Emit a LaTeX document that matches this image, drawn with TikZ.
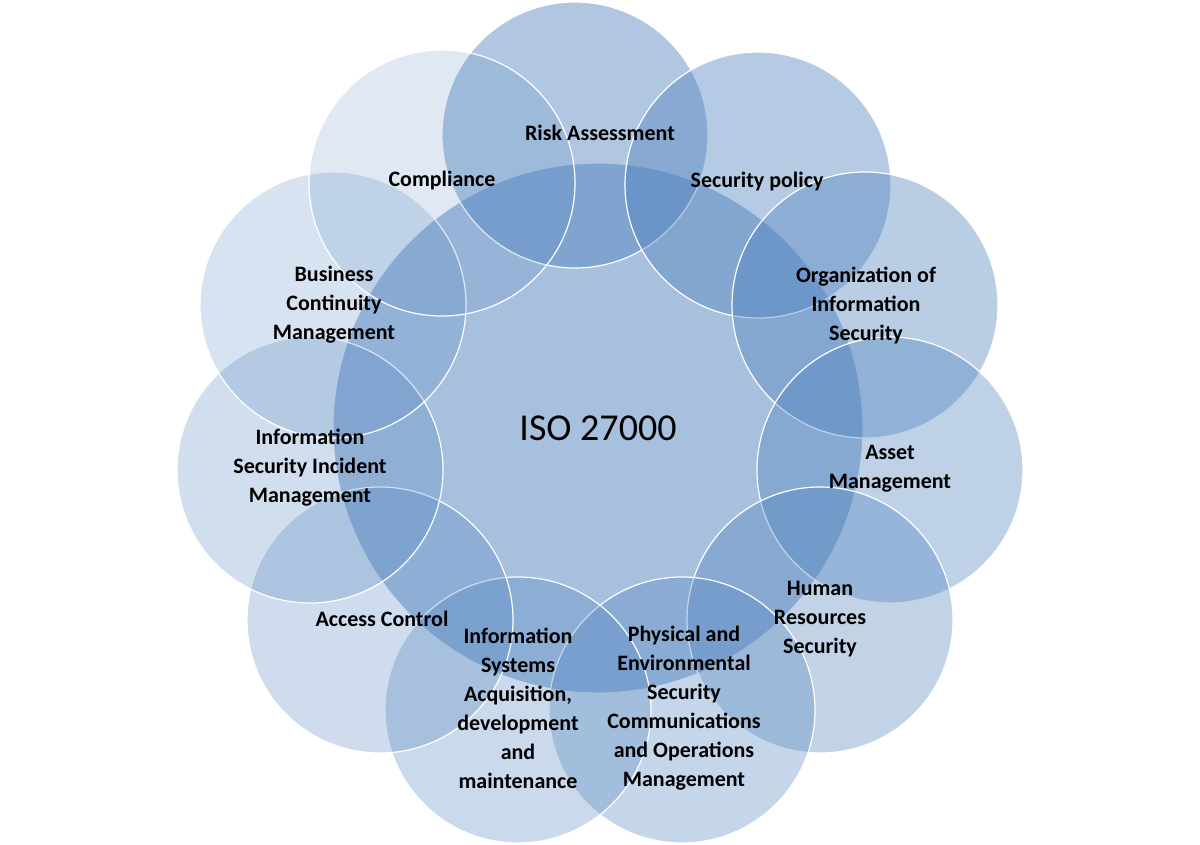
\documentclass[tikz,border=0pt]{standalone}
\usepackage{fontspec}
\setmainfont{Carlito}
\begin{document}
\begin{tikzpicture}[x=1pt,y=-1pt,
  circ/.style={circle,draw=white,line width=1.2pt,fill={rgb,255:red,79;green,129;blue,189},fill opacity=#1,minimum size=266pt,inner sep=0pt},
  lab/.style={align=center,font=\bfseries\fontsize{22}{29}\selectfont,text=black}]
\useasboundingbox (0,0) rectangle (1200,844);
\node[circ=0.5,minimum size=530pt] (c) at (598,428) {};
\node[circ=0.45] (c1) at (575,135) {};
\node[circ=0.42] (c2) at (758,185) {};
\node[circ=0.4] (c3) at (865,305) {};
\node[circ=0.37] (c4) at (890,470) {};
\node[circ=0.35] (c5) at (820,620) {};
\node[circ=0.32] (c6) at (682,710) {};
\node[circ=0.3] (c7) at (518,710) {};
\node[circ=0.28] (c8) at (380,620) {};
\node[circ=0.26] (c9) at (310,470) {};
\node[circ=0.22] (c10) at (333,305) {};
\node[circ=0.18] (c11) at (442,183) {};
\node[font=\fontsize{38}{44}\selectfont] (t0) at (598,428) {ISO 27000};
\node[lab] (t1) at (600,133) {Risk Assessment};
\node[lab] (t2) at (757,182) {Security policy};
\node[lab] (t3) at (866,305) {Organization of\\Information\\Security};
\node[lab] (t4) at (890,469) {Asset\\Management};
\node[lab] (t5) at (820,619) {Human\\Resources\\Security};
\node[lab] (t6) at (684,708) {Physical and\\Environmental\\Security\\Communications\\and Operations\\Management};
\node[lab] (t7) at (518,708) {Information\\Systems\\Acquisition,\\development\\and\\maintenance};
\node[lab] (t8) at (382,619) {Access Control};
\node[lab] (t9) at (310,468) {Information\\Security Incident\\Management};
\node[lab] (t10) at (334,305) {Business\\Continuity\\Management};
\node[lab] (t11) at (442,181) {Compliance};
\end{tikzpicture}
\end{document}
